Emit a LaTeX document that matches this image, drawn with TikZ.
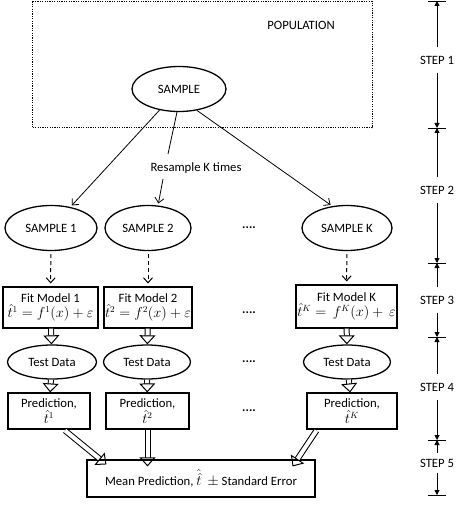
\documentclass[tikz,border=0pt]{standalone}
\usepackage{fontspec}
\setmainfont{Carlito}
\usetikzlibrary{calc,shapes.geometric,arrows.meta}
\definecolor{c000000}{RGB}{0,0,0}
\newcommand{\mathline}[1]{{\fontsize{13.5}{14}\selectfont #1}}

\begin{document}
\begin{tikzpicture}[y=1pt,x=1pt,yscale=-1,
  font=\fontsize{12.7}{14}\selectfont,
  oval/.style={ellipse,draw=c000000,line width=1.3pt,inner sep=0pt},
  fitbox/.style={draw=c000000,line width=1.1pt,align=center,inner sep=0pt},
  thinarrow/.style={draw=c000000,line width=0.8pt,-{Straight Barb[length=5pt,width=9pt]}},
  dasharrow/.style={draw=c000000,line width=1pt,dash pattern=on 4pt off 3pt,
    -{Straight Barb[length=5pt,width=9pt]},shorten <=3pt,shorten >=3pt},
  fatarrow/.style={draw=c000000,double,double distance=4pt,line width=1pt,
    -{Triangle[open,length=9pt,width=16pt]}},
  steplabel/.style={inner xsep=2pt,inner ysep=8.5pt},
  dimarrow/.style={draw=c000000,line width=0.9pt,-{Triangle[length=5pt,width=5pt]}}]
\useasboundingbox (0,0) rectangle (474,505);

  % population
  \path[draw=c000000,dash pattern=on 1.2pt off 1.2pt,line width=1pt]
    (32,1.5) rectangle (372,128);
  \path (301,25) node (population) {POPULATION};
  \path (179,89) node[oval,minimum width=94,minimum height=45] (sample) {SAMPLE};
  \path (196,168) node (resample) {Resample K times};
  \coordinate (rsTop) at (168,154);
  \coordinate (rsBot) at (163,179);

  % bootstrap samples
  \path (51,228) node[oval,minimum width=92,minimum height=45] (samp1) {SAMPLE 1};
  \path (148,228) node[oval,minimum width=86,minimum height=45] (samp2) {SAMPLE 2};
  \path (347,228) node[oval,minimum width=90,minimum height=45] (sampK) {SAMPLE K};
  \path (249,228) node (dots1) {\textbf{....}};

  \path[thinarrow,shorten >=2pt] (sample) -- (samp1);
  \path[draw=c000000,line width=0.8pt] (sample.265) -- (rsTop);
  \path[thinarrow,shorten >=2pt] (rsBot) -- (samp2.66);
  \path[thinarrow,shorten >=2pt] (sample.310) -- (sampK.124);

  % fitted models
  \path (50.5,307.5) node[fitbox,minimum width=95,minimum height=41] (fit1)
    {Fit Model 1\\[1pt]\mathline{$\hat{t}^1 = f^1(x) + \varepsilon$}};
  \path (148,307.5) node[fitbox,minimum width=88,minimum height=41] (fit2)
    {Fit Model 2\\[1pt]\mathline{$\hat{t}^2 = f^2(x) + \varepsilon$}};
  \path (346.5,306.5) node[fitbox,minimum width=101,minimum height=43] (fitK)
    {Fit Model K\\[1pt]\mathline{$\hat{t}^K = \,f^K(x) + \,\varepsilon$}};
  \path (249,313) node (dots2) {\textbf{....}};

  \path[dasharrow] (samp1) -- (fit1);
  \path[dasharrow] (samp2) -- (fit2);
  \path[dasharrow] (sampK) -- (fitK);

  % test data
  \path (52,362) node[oval,minimum width=89,minimum height=34] (test1) {Test Data};
  \path (147,362) node[oval,minimum width=87,minimum height=34] (test2) {Test Data};
  \path (347,362) node[oval,minimum width=87,minimum height=34] (testK) {Test Data};
  \path (249,362) node (dots3) {\textbf{....}};

  \path[fatarrow] (fit1) -- (test1);
  \path[fatarrow] (fit2) -- (test2);
  \path[fatarrow] (fitK) -- (testK);

  % predictions
  \path (49,411) node[fitbox,minimum width=82,minimum height=36] (pred1)
    {Prediction,\\[1pt]\mathline{$\hat{t}^1$}};
  \path (147.5,411) node[fitbox,minimum width=83,minimum height=36] (pred2)
    {Prediction,\\[1pt]\mathline{$\hat{t}^2$}};
  \path (352,411) node[fitbox,minimum width=90,minimum height=36] (predK)
    {Prediction,\\[1pt]\mathline{$\hat{t}^K$}};
  \path (249,411) node (dots4) {\textbf{....}};

  \path[fatarrow] (test1) -- (pred1);
  \path[fatarrow] (test2) -- (pred2);
  \path[fatarrow] (testK) -- (predK);

  % mean
  \path (201,478.5) node[fitbox,minimum width=228,minimum height=37] (mean)
    {Mean Prediction, \mathline{$\hat{\hat{t}}$ \ $\pm$} Standard Error};

  \path[fatarrow] ($(pred1.south)+(16,1)$) -- ($(mean.north west)+(20,5)$);
  \path[fatarrow] (pred2.south) -- ($(mean.north -| pred2.south)+(0,7)$);
  \path[fatarrow] ($(predK.south west)+(10,1)$) -- ($(mean.north east)+(-23,7)$);

  % steps
  \foreach \name/\y in {tk0/1,tk1/128,tk2/263,tk3/337,tk4/440,tk5/495}{
    \coordinate (\name) at (437,\y);
    \path[draw=c000000,line width=0.9pt] ($(\name)+(-9,0)$) -- ($(\name)+(9,0)$);
  }
  \path (437,60) node[steplabel] (step1) {STEP 1};
  \path (437,190) node[steplabel] (step2) {STEP 2};
  \path (437,300) node[steplabel] (step3) {STEP 3};
  \path (437,387) node[steplabel] (step4) {STEP 4};
  \path (437,463) node[steplabel,inner ysep=6pt] (step5) {STEP 5};
  \foreach \lab/\up/\down in {step1/tk0/tk1,step2/tk1/tk2,step3/tk2/tk3,
      step4/tk3/tk4,step5/tk4/tk5}{
    \path[dimarrow] (\lab.north) -- (\up);
    \path[dimarrow] (\lab.south) -- (\down);
  }
\end{tikzpicture}
\end{document}
